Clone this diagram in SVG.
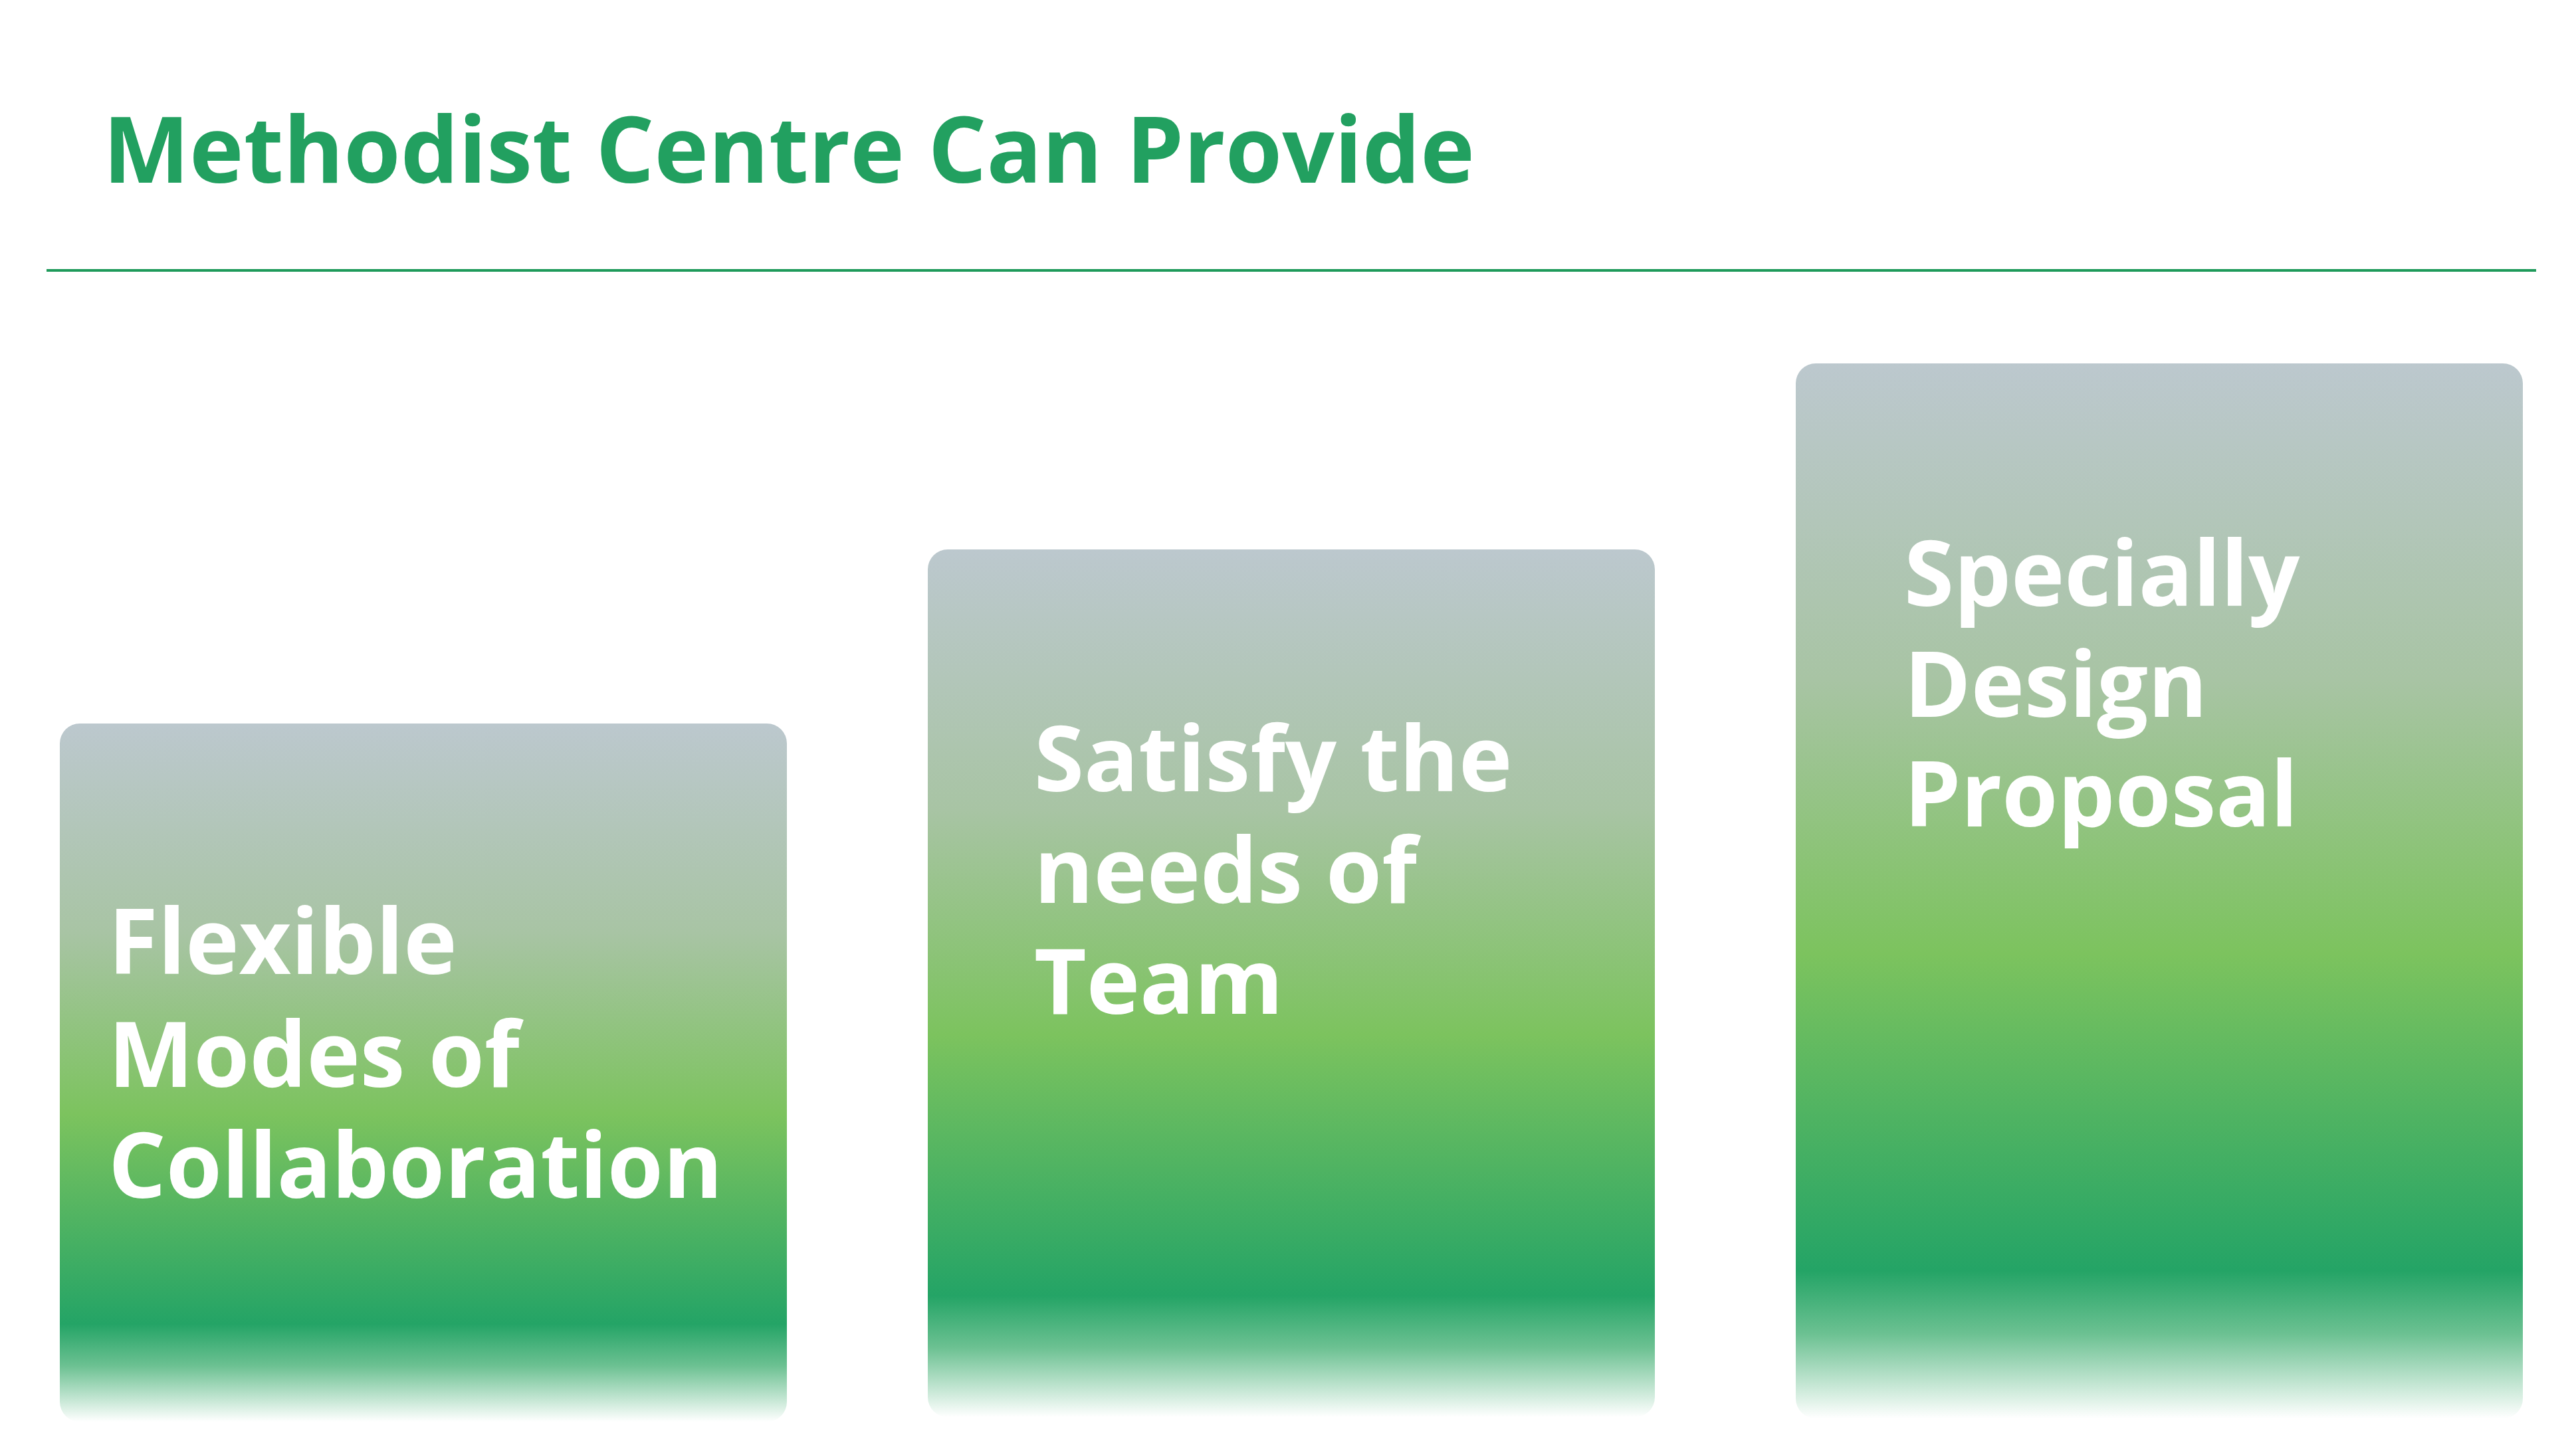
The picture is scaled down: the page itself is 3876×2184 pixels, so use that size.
<svg xmlns="http://www.w3.org/2000/svg" width="3876" height="2184" viewBox="0 0 3876 2184">
<style>
.t{font-family:"Open Sans","Liberation Sans",sans-serif;font-weight:bold;fill:#fff;font-size:136px}
.h{font-family:"Open Sans","Liberation Sans",sans-serif;font-weight:bold;fill:#22A060;font-size:138px}
</style>
<defs>
<linearGradient id="g" x1="0" y1="0" x2="0" y2="1">
<stop offset="0" stop-color="#BCC8CE"/>
<stop offset="0.3" stop-color="#A8C4A4"/>
<stop offset="0.56" stop-color="#7CC35E"/>
<stop offset="0.86" stop-color="#24A466"/>
<stop offset="0.92" stop-color="#6CC192"/>
<stop offset="1" stop-color="#FFFFFF"/>
</linearGradient>
</defs>
<rect width="3876" height="2184" fill="#fff"/>
<text class="h" x="155" y="275">Methodist Centre Can Provide</text>
<line x1="70" y1="407" x2="3816" y2="407" stroke="#1E9A5A" stroke-width="4"/>
<g id="box1">
<rect x="90" y="1089" width="1094" height="1051" rx="30" fill="url(#g)"/>
<text class="t" x="163"><tspan y="1466">Flexible</tspan><tspan x="163" y="1636">Modes of</tspan><tspan x="163" y="1803">Collaboration</tspan></text>
</g>
<g id="box2">
<rect x="1396" y="827" width="1094" height="1306" rx="30" fill="url(#g)"/>
<text class="t" x="1556"><tspan y="1191">Satisfy the</tspan><tspan x="1556" y="1359">needs of</tspan><tspan x="1556" y="1526">Team</tspan></text>
</g>
<g id="box3">
<rect x="2702" y="547" width="1094" height="1588" rx="30" fill="url(#g)"/>
<text class="t" x="2865"><tspan y="912">Specially</tspan><tspan x="2865" y="1079">Design</tspan><tspan x="2865" y="1244">Proposal</tspan></text>
</g>
<g id="connectors"/>
</svg>
